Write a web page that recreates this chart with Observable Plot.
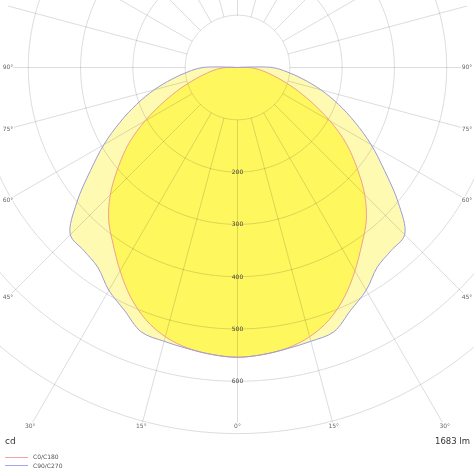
<!DOCTYPE html>
<html><head><meta charset="utf-8">
<script src="https://cdn.jsdelivr.net/npm/d3@7"></script>
<script src="https://cdn.jsdelivr.net/npm/@observablehq/plot@0.6"></script>
<style>
body{margin:0;background:#fff;font-family:"DejaVu Sans",Verdana,sans-serif}
#wrap{position:relative;width:474px;height:474px;overflow:hidden;background:#fff}
#chart{position:absolute;left:0;top:0}
.t{position:absolute;transform:translateY(-50%);white-space:nowrap;line-height:1}
.sw{position:absolute;height:0;width:23px}
</style></head><body>
<div id="wrap"><div id="chart"></div></div>
<script>
// ---- data ----
const gammaAngles = [0,5,10,15,20,25,30,35,40,45,50,55,60,65,70,75,80,85,90];
const c0c180  = [554,551,545,533,513,484,449,414,383,344,298,254,204,155,115,82,58,40,22];
const c90c270 = [554,551,546,542,538,512,492,466,457,452,401,343,295,248,205,165,127,95,66];
const ringValues = [100,200,300,400,500,600,700];
const ringLabels = [200,300,400,500,600];
const radialAngles = [0,15,30,45,60,75,90,105,120,135,150,165,180,195,210,225,240,255,270,285,300,315,330,345];
const bottomLabelAngles = [0,15,30];
const sideLabelAngles = [45,60,75,90];
const seriesNames = ["C0/C180","C90/C270"];
const seriesStroke = ["#f0a090","#9c9cd6"];
const seriesFill = ["#fff75e","#fffab2"];
const legendStroke = ["#f4a4a4","#a4a4ea"];
const unitLabel = "cd";
const fluxLabel = "1683 lm";

// ---- layout ----
const W = 474, H = 436, cx = 237, cy = 67, k = 0.523;
const xHalf = cx / k;
const yTop = cy / k, yBot = -(H - cy) / k;
const rad = d => d * Math.PI / 180;

function polygon(vals, name) {
  const pts = [{s:name, x:0, y:0}];
  for (let i = gammaAngles.length - 1; i >= 0; i--) {
    const a = rad(gammaAngles[i]);
    pts.push({s:name, x:-vals[i]*Math.sin(a), y:-vals[i]*Math.cos(a)});
  }
  for (let i = 1; i < gammaAngles.length; i++) {
    const a = rad(gammaAngles[i]);
    pts.push({s:name, x:vals[i]*Math.sin(a), y:-vals[i]*Math.cos(a)});
  }
  pts.push({s:name, x:0, y:0});
  return pts;
}
const polyRed = polygon(c0c180, seriesNames[0]);
const polyBlue = polygon(c90c270, seriesNames[1]);

const ringPts = [];
for (const v of ringValues) for (let t = 0; t <= 360; t += 2)
  ringPts.push({ring:v, x:v*Math.sin(rad(t)), y:v*Math.cos(rad(t))});

const sideX = (cx - 7.5) / k;
const bottomY = (426 - cy) / k;
const spokes = radialAngles.map(a => {
  const s = Math.sin(rad(a)), c = Math.cos(rad(a));
  let r = 1e4;
  if (Math.abs(s) > 1e-9) r = Math.min(r, sideX / Math.abs(s));
  if (c > 1e-9) r = Math.min(r, bottomY / c);
  if (c < -1e-9) r = Math.min(r, yTop / -c + 5);
  return {x1:100*s, y1:-100*c, x2:r*s, y2:-r*c};
});

const angleLabels = [];
for (const a of bottomLabelAngles) {
  const xs = a === 0 ? [0] : [-1, 1];
  for (const sg of xs) angleLabels.push({x: sg*bottomY*Math.tan(rad(a)), y:-bottomY, t:a+"°"});
}
for (const a of sideLabelAngles) {
  for (const sg of [-1,1]) angleLabels.push({x: sg*sideX, y: a===90 ? 0 : -sideX/Math.tan(rad(a)), t:a+"°"});
}

const gridStyle = {stroke:"#dcdce2", strokeWidth:1, mixBlendMode:"multiply"};
const plot = Plot.plot({
  width: W, height: H, margin: 0,
  x: {domain: [-xHalf, xHalf], axis: null},
  y: {domain: [yBot, yTop], axis: null},
  style: {background: "transparent", fontFamily: "DejaVu Sans, sans-serif"},
  marks: [
    Plot.line(polyBlue, {x:"x", y:"y", fill: seriesFill[1], stroke: "none", curve: "catmull-rom"}),
    Plot.line(polyRed, {x:"x", y:"y", fill: seriesFill[0], stroke: "none", curve: "catmull-rom"}),
    Plot.line(ringPts, {x:"x", y:"y", z:"ring", curve:"linear", ...gridStyle}),
    Plot.link(spokes, {x1:"x1", y1:"y1", x2:"x2", y2:"y2", ...gridStyle}),
    Plot.line(polyRed, {x:"x", y:"y", stroke: seriesStroke[0], strokeWidth: 1, curve: "catmull-rom"}),
    Plot.line(polyBlue, {x:"x", y:"y", stroke: seriesStroke[1], strokeWidth: 1, curve: "catmull-rom"}),
    Plot.text(ringLabels, {x: 0, y: d => -d, text: d => String(d), fontSize: 6, fill: "#444"}),
    Plot.text(angleLabels, {x:"x", y:"y", text:"t", fontSize: 6, fill:"#666", stroke:"white", strokeWidth: 3})
  ]
});
const wrap = document.getElementById("wrap");
document.getElementById("chart").appendChild(plot);

function addText(txt, left, top, size, color, right) {
  const d = document.createElement("div");
  d.className = "t"; d.textContent = txt;
  d.style.fontSize = size + "px"; d.style.color = color; d.style.top = top + "px";
  if (right !== undefined) d.style.right = right + "px"; else d.style.left = left + "px";
  wrap.appendChild(d);
}
addText(unitLabel, 5, 441, 9, "#333");
addText(fluxLabel, 0, 441, 8.5, "#333", 4);
seriesNames.forEach((n, i) => {
  const y = 456.5 + i * 8.5;
  const sw = document.createElement("div");
  sw.className = "sw"; sw.style.left = "5px"; sw.style.top = y + "px";
  sw.style.borderTop = "1px solid " + legendStroke[i];
  wrap.appendChild(sw);
  addText(n, 33, y + 0.5, 6, "#555");
});
</script>
</body></html>
